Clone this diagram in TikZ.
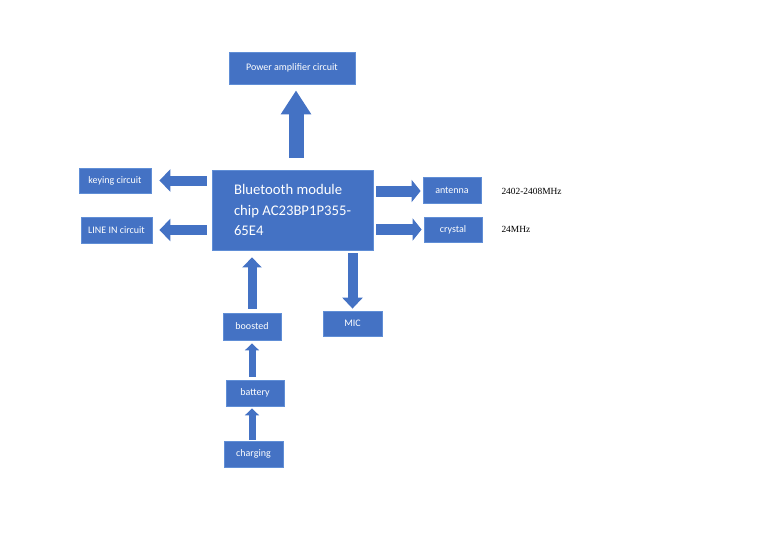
\documentclass[tikz,border=0pt]{standalone}
\usepackage{fontspec}
\setmainfont{Carlito}
\newfontfamily\freqfont{Liberation Serif}
\usetikzlibrary{arrows.meta}
\definecolor{boxblue}{RGB}{68,114,196}
\definecolor{boxedge}{RGB}{96,142,214}

\begin{document}
\begin{tikzpicture}[x=1pt, y=-1pt,
  blk/.style={draw=boxedge, line width=0.8pt, fill=boxblue, text=white, inner sep=0pt,
    font=\fontsize{10}{12}\selectfont},
  fat/.style n args={3}{draw=boxblue, line width=#1, -{Triangle[width=#2,length=#3]}},
  freq/.style={anchor=west, font=\freqfont\fontsize{9.4}{11}\selectfont}]
\useasboundingbox (0,0) rectangle (768,543);
% boxes
\node[blk, minimum width=126pt, minimum height=32pt] (pa) at (292,68) {Power amplifier circuit};
\node[blk, minimum width=161pt, minimum height=80pt, align=left,
  font=\fontsize{14.7}{20.4}\selectfont] (main) at (292.5,210) {Bluetooth module\\chip AC23BP1P355-\\65E4};
\node[blk, minimum width=72pt, minimum height=25pt] (key) at (115,180.5) {keying circuit};
\node[blk, minimum width=71pt, minimum height=26pt] (linein) at (116.5,230) {LINE IN circuit};
\node[blk, minimum width=58pt, minimum height=26pt] (ant) at (452,190) {antenna};
\node[blk, minimum width=58pt, minimum height=25pt] (crys) at (453,229.5) {crystal};
\node[blk, minimum width=59pt, minimum height=25pt] (mic) at (352.5,323.5) {MIC};
\node[blk, minimum width=58pt, minimum height=27pt] (boost) at (252,326.5) {boosted};
\node[blk, minimum width=58pt, minimum height=26pt] (batt) at (255,393) {battery};
\node[blk, minimum width=59pt, minimum height=26pt] (chg) at (253.5,454) {charging};
\node[freq] (f1) at (498,191) {2402-2408MHz};
\node[freq] (f2) at (498,229) {24MHz};
% block arrows
\draw[fat={15pt}{29pt}{24pt}, shorten <=12pt, shorten >=6pt] ([xshift=3.5pt]main.north) -- ([xshift=4pt]pa.south);
\draw[fat={10pt}{22pt}{11pt}, shorten <=5pt, shorten >=8pt] (main.west |- key) -- (key.east);
\draw[fat={10pt}{22pt}{11pt}, shorten <=5pt, shorten >=7pt] (main.west |- linein) -- (linein.east);
\draw[fat={11pt}{22pt}{9pt}, shorten <=3pt, shorten >=2pt] (main.east |- 0,191) -- (ant.west |- 0,191);
\draw[fat={11pt}{22pt}{9pt}, shorten <=3pt, shorten >=2pt] (main.east |- crys) -- (crys.west);
\draw[fat={10pt}{20pt}{11pt}, shorten <=3pt, shorten >=2pt] (main.south -| mic) -- (mic.north);
\draw[fat={9pt}{19pt}{10pt}, shorten <=4pt, shorten >=7pt] (boost.north) -- (main.south -| boost);
\draw[fat={7pt}{14pt}{7pt}, shorten <=3pt, shorten >=3pt] (batt.north -| boost) -- (boost.south);
\draw[fat={7pt}{14pt}{7pt}, shorten <=1pt, shorten >=2pt] (chg.north -| boost) -- (batt.south -| boost);
\end{tikzpicture}
\end{document}
